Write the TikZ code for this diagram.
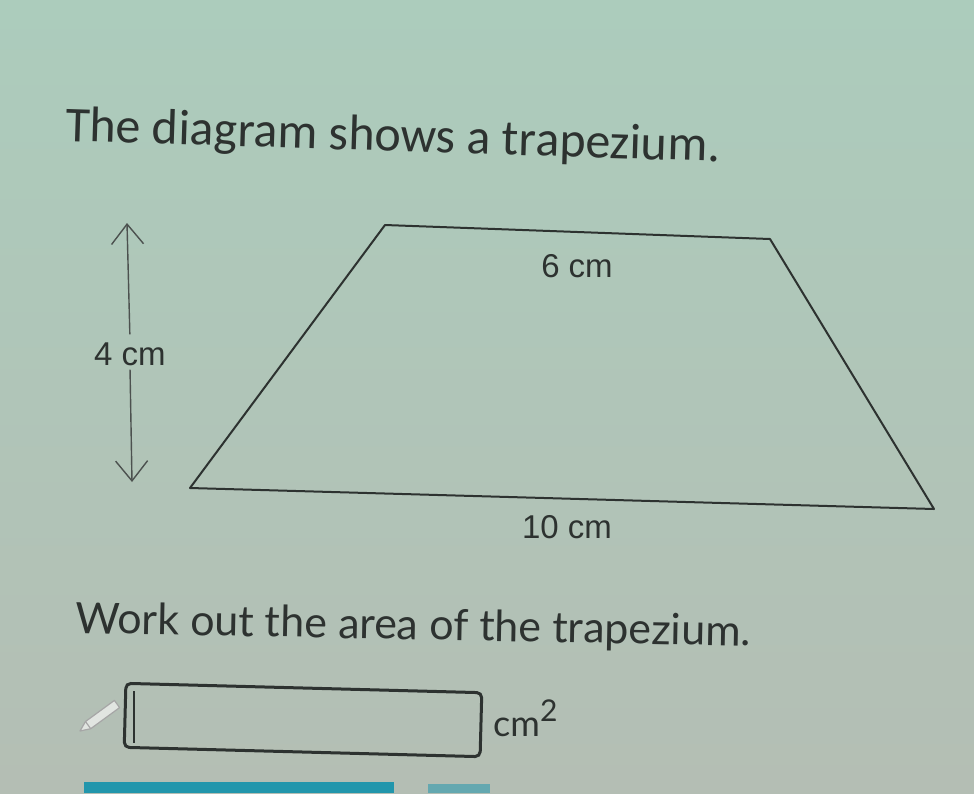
\documentclass[tikz,border=0pt]{standalone}
\usepackage{fontspec}
\setmainfont{Lato}
\newfontfamily\headfont{Carlito}
\newfontfamily\labelfont{Liberation Sans}
\usetikzlibrary{arrows.meta}

\definecolor{screentop}{RGB}{172,204,188}
\definecolor{screenmid}{RGB}{170,200,182}
\definecolor{screenbot}{RGB}{180,190,180}
\definecolor{inkgray}{RGB}{45,50,48}
\definecolor{buttonteal}{RGB}{34,150,172}

\tikzset{
    edge/.style={line width=2pt, draw=inkgray, line join=round},
    dimlabel/.style={font=\labelfont\fontsize{33}{33}\selectfont, text=inkgray, inner sep=2pt},
    dimarrow/.style={line width=1.4pt, draw=inkgray!85,
        -{Straight Barb[length=20pt, width=32pt, line width=1.4pt]}},
    answerbox/.style={draw=inkgray, line width=3pt, rounded corners=5pt,
        minimum width=356pt, minimum height=64pt},
}

\begin{document}
\begin{tikzpicture}[x=1pt, y=-1pt]
    % Screen
    \shade[top color=screentop, middle color=screenmid, bottom color=screenbot]
        (0,0) rectangle (974,793);
    \useasboundingbox (0,0) rectangle (974,793);

    % Heading
    \node[anchor=base west, rotate=-1.8, inner sep=0pt, text=inkgray,
        font=\headfont\fontsize{50}{50}\selectfont] (heading) at (65,141)
        {The diagram shows a trapezium.};

    % Trapezium
    \coordinate (tl) at (385,225);
    \coordinate (tr) at (770,239);
    \coordinate (br) at (934,509);
    \coordinate (bl) at (190,488);
    \draw[edge] (bl) -- (tl) -- (tr) -- (br) -- cycle;
    \node[dimlabel] (toplen) at (577,266) {6 cm};
    \node[dimlabel] (baselen) at (567,527) {10 cm};

    % Height
    \node[dimlabel] (height) at (130,354) {4 cm};
    \coordinate (htop) at (127,223);
    \coordinate (hbot) at (132,482);
    \draw[dimarrow, shorten <=6pt] (height.north) -- (htop);
    \draw[dimarrow, shorten <=2pt] (height.south) -- (hbot);

    % Question
    \node[anchor=base west, rotate=-1.1, inner sep=0pt, text=inkgray,
        font=\fontsize{43}{43}\selectfont] (task) at (75,633)
        {Work out the area of the trapezium.};

    % Answer
    \node[answerbox, rotate=-1.5] (answer) at (303,720) {};
    \draw[line width=2pt, inkgray] (134,691) -- (134,743);
    \node[anchor=base west, inner sep=0pt, text=inkgray,
        font=\fontsize{36}{36}\selectfont] (unit) at (493,736)
        {cm\raisebox{15pt}{\fontsize{30}{30}\selectfont 2}};

    % Pencil
    \draw[gray!70, line width=1.2pt, fill=white!60!screenbot, line join=round]
        (80,731) -- (90.7,728.7) -- (119.6,707.6) -- (114.4,700.4) -- (85.5,721.5) -- cycle;
    \draw[gray!70, line width=1.2pt] (90.7,728.7) -- (85.5,721.5);

    % Button
    \fill[buttonteal] (84,782) rectangle (394,793);
    \fill[buttonteal!55!screenbot] (428,784) rectangle (490,793);
\end{tikzpicture}
\end{document}
